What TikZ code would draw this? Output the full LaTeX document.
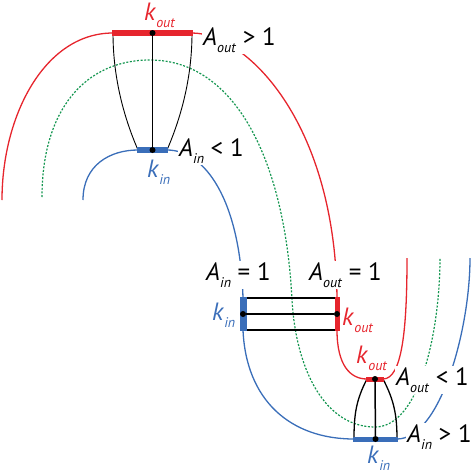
\documentclass[tikz,border=0pt]{standalone}
\usepackage{fontspec}
\setmainfont{PT Sans}
\usepackage{tikz}
\usetikzlibrary{arrows.meta,positioning}

\definecolor{kred}{RGB}{230,37,45}
\definecolor{kblue}{RGB}{58,110,185}
\definecolor{kgreen}{RGB}{20,150,80}

\newcommand{\sym}[2]{\textit{#1}\raisebox{-7.5pt}{\fontsize{14}{14}\selectfont\textit{#2}}}

\begin{document}
\begin{tikzpicture}[
  x=1pt, y=-1pt,
  redline/.style={draw=kred, line width=1.3pt},
  blueline/.style={draw=kblue, line width=1.3pt},
  greenline/.style={draw=kgreen, line width=1.2pt, dash pattern=on 2pt off 1.6pt},
  redbar/.style={draw=kred, line width=6pt, shorten <=-1pt, shorten >=-1pt},
  bluebar/.style={draw=kblue, line width=6pt, shorten <=-1pt, shorten >=-1pt},
  side/.style={draw=black, line width=0.9pt},
  axis/.style={draw=black, line width=1.5pt},
  dot/.style={circle, fill=black, inner sep=0pt, minimum size=6pt},
  lbl/.style={font=\fontsize{25}{28}\selectfont, inner sep=1pt, anchor=base west},
  mask/.style={lbl, fill=white}
]
\useasboundingbox (0,0) rectangle (474,474);

% bar ends
\coordinate (toutL) at (113,33);
\coordinate (toutR) at (192,33);
\coordinate (tinL) at (138,150);
\coordinate (tinR) at (167,150);
\coordinate (minT) at (243,298);
\coordinate (minB) at (243,330);
\coordinate (moutT) at (337,298);
\coordinate (moutB) at (337,330);
\coordinate (boutL) at (367,379);
\coordinate (boutR) at (383,379);
\coordinate (binL) at (354,439);
\coordinate (binR) at (397,439);
% free ends
\coordinate (rA) at (2,200);
\coordinate (gA) at (42,197);
\coordinate (bA) at (83,200);
\coordinate (rZ) at (407,258);
\coordinate (gZ) at (440,258);
\coordinate (bZ) at (470,258);

% curves
\draw[redline] (rA) .. controls (2,115) and (45,33) .. (toutL);
\draw[redline] (toutR) .. controls (245,33) and (335,120) .. (moutT);
\draw[redline] (moutB) .. controls (337,365) and (350,379) .. (boutL);
\draw[redline] (boutR) .. controls (402,379) and (407,330) .. (rZ);
\draw[blueline] (bA) .. controls (83,165) and (110,150) .. (tinL);
\draw[blueline] (tinR) .. controls (205,150) and (240,200) .. (minT);
\draw[blueline] (minB) .. controls (246,400) and (290,439) .. (binL);
\draw[blueline] (binR) .. controls (440,439) and (470,330) .. (bZ);
\draw[greenline] (gA) .. controls (42,110) and (85,60) .. (150,60)
  .. controls (235,60) and (285,160) .. (292,300)
  .. controls (296,370) and (325,427) .. (375,427)
  .. controls (420,427) and (440,330) .. (gZ);

% labels
\node[lbl, text=kred] (koutT) at (143,20) {\sym{k}{out}};
\node[mask] (aoutT) at (202,45) {\sym{A}{out} > 1};
\node[mask] (ainT) at (178,156) {\sym{A}{in} < 1};
\node[lbl, text=kblue] (kinT) at (146,177) {\sym{k}{in}};
\node[mask] (ainM) at (205,280) {\sym{A}{in} = 1};
\node[mask] (aoutM) at (308,280) {\sym{A}{out} = 1};
\node[lbl, text=kblue] (kinM) at (211,320) {\sym{k}{in}};
\node[lbl, text=kred] (koutM) at (341,325) {\sym{k}{out}};
\node[lbl, text=kred] (koutB) at (355,363) {\sym{k}{out}};
\node[mask] (aoutB) at (395,385) {\sym{A}{out} < 1};
\node[mask] (ainB) at (406,442) {\sym{A}{in} > 1};
\node[lbl, text=kblue] (kinB) at (366,463) {\sym{k}{in}};

% top: A_out > 1, A_in < 1
\draw[side] (toutL) .. controls (113,80) and (125,120) .. (tinL);
\draw[side] (toutR) .. controls (192,80) and (180,120) .. (tinR);
\draw[redbar] (toutL) -- (toutR);
\draw[bluebar] (tinL) -- (tinR);
\node[dot] (topout) at (152.5,33) {};
\node[dot] (topin) at (152.5,150) {};
\draw[axis] (topout) -- (topin);

% middle: A_in = A_out = 1
\draw[axis] (minT) -- (moutT);
\draw[axis] (minB) -- (moutB);
\draw[bluebar, line width=7pt] (minT) -- (minB);
\draw[redbar, line width=5pt] (moutT) -- (moutB);
\node[dot] (midin) at (243,314) {};
\node[dot] (midout) at (337,314) {};
\draw[axis] (midin) -- (midout);

% bottom: A_out < 1, A_in > 1
\draw[axis, line width=1.3pt] (boutL) .. controls (356,400) and (354,415) .. (binL);
\draw[axis, line width=1.3pt] (boutR) .. controls (394,400) and (397,415) .. (binR);
\draw[redbar, line width=5pt] (boutL) -- (boutR);
\draw[bluebar, line width=5pt] (binL) -- (binR);
\node[dot] (botout) at (375,379) {};
\node[dot] (botin) at (375.5,439) {};
\draw[axis] (botout) -- (botin);

\end{tikzpicture}
\end{document}
